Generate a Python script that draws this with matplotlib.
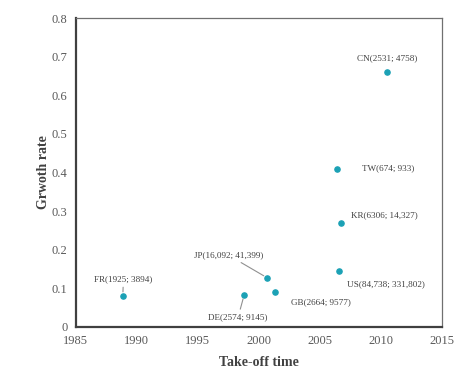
import matplotlib.pyplot as plt

plt.rcParams['font.family'] = ['Liberation Serif', 'DejaVu Serif']

# Data
countries = ["CN", "TW", "KR", "US", "JP", "GB", "DE", "FR"]
takeoff = [2010.5, 2006.4, 2006.7, 2006.6, 2000.7, 2001.3, 1998.8, 1988.85]
growth = [0.66, 0.41, 0.27, 0.144, 0.127, 0.091, 0.083, 0.080]
labels = ["CN(2531; 4758)", "TW(674; 933)", "KR(6306; 14,327)",
          "US(84,738; 331,802)", "JP(16,092; 41,399)", "GB(2664; 9577)",
          "DE(2574; 9145)", "FR(1925; 3894)"]
label_pos = [(2010.5, 0.697), (2010.6, 0.412), (2010.3, 0.29),
             (2010.4, 0.110), (1997.5, 0.186), (2005.1, 0.063),
             (1998.3, 0.025), (1988.9, 0.124)]
with_line = ["JP", "DE", "FR"]

fig, ax = plt.subplots(figsize=(4.74, 3.92), dpi=100)
fig.subplots_adjust(left=0.16, right=0.932, top=0.954, bottom=0.166)

ax.scatter(takeoff, growth, s=14, color="#1ba1b5", zorder=3)

for c, x, y, lab, (lx, ly) in zip(countries, takeoff, growth, labels, label_pos):
    if c in with_line:
        ax.annotate(lab, xy=(x, y), xytext=(lx, ly), ha="center", va="center",
                    fontsize=6.6, color="#404040",
                    arrowprops=dict(arrowstyle="-", color="#909090", lw=0.8,
                                    shrinkA=1, shrinkB=3))
    else:
        ax.text(lx, ly, lab, ha="center", va="center", fontsize=6.6, color="#404040")

ax.set_xlim(1985, 2015)
ax.set_ylim(0, 0.8)
ax.set_xticks([1985, 1990, 1995, 2000, 2005, 2010, 2015])
ax.set_yticks([0, 0.1, 0.2, 0.3, 0.4, 0.5, 0.6, 0.7, 0.8])
ax.set_yticklabels(["0", "0.1", "0.2", "0.3", "0.4", "0.5", "0.6", "0.7", "0.8"])
ax.tick_params(length=0, labelsize=9, labelcolor="#595959", pad=6)

ax.set_xlabel("Take-off time", fontsize=10, fontweight="bold", color="#404040", labelpad=6)
ax.set_ylabel("Grwoth rate", fontsize=10, fontweight="bold", color="#404040", labelpad=1)

for side in ["left", "bottom"]:
    ax.spines[side].set_linewidth(1.6)
    ax.spines[side].set_color("#404040")
for side in ["top", "right"]:
    ax.spines[side].set_linewidth(0.9)
    ax.spines[side].set_color("#707070")

plt.savefig("out.png", dpi=100)
